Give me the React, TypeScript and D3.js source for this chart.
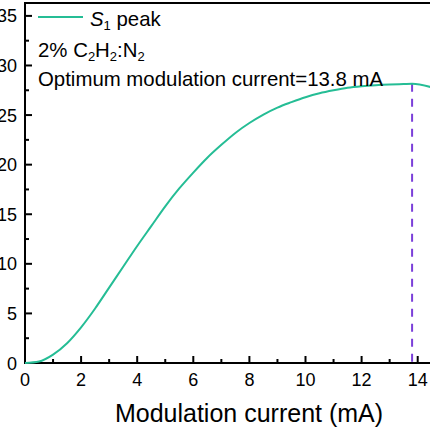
import React, { useEffect, useRef } from "react";
import * as d3 from "d3";

// modulation current (mA) and S1 peak amplitude
const current = [0, 0.5, 1, 1.5, 2, 2.5, 3, 3.5, 4, 4.5, 5, 5.5, 6, 6.5, 7, 7.5, 8, 8.5, 9, 9.5, 10, 10.5, 11, 11.5, 12, 12.5, 13, 13.5, 13.8, 14.5];
const s1Peak = [0, 0.15, 0.85, 2.0, 3.6, 5.5, 7.6, 9.7, 11.8, 13.8, 15.8, 17.6, 19.2, 20.7, 22.0, 23.2, 24.2, 25.05, 25.75, 26.3, 26.8, 27.2, 27.5, 27.75, 27.9, 28.0, 28.07, 28.12, 28.15, 27.8];

const xTicks = [0, 2, 4, 6, 8, 10, 12, 14];
const yTicks = [0, 5, 10, 15, 20, 25, 30, 35];
const optimum = 13.8;

const FONT = "'Liberation Sans', Arial, sans-serif";
const GREEN = "#25bd95";
const PURPLE = "#7b3fd9";

const App = () => {
  const svgRef = useRef<SVGSVGElement>(null);

  useEffect(() => {
    const W = 430;
    const H = 430;
    const svg = d3.select(svgRef.current).attr("width", W).attr("height", H);
    svg.selectAll("*").remove();

    const x = d3.scaleLinear().domain([0, 14.5]).range([25, 25 + 14.5 * 28.05]);
    const y = d3.scaleLinear().domain([0, 36.3]).range([363, 3]);

    const g = svg.append("g");

    // minor ticks
    const xMinor = d3.range(1, 15, 2);
    const yMinor = d3.range(2.5, 36, 5);

    g.selectAll(".xminor")
      .data(xMinor)
      .enter()
      .append("line")
      .attr("x1", (d) => x(d))
      .attr("x2", (d) => x(d))
      .attr("y1", y(0))
      .attr("y2", y(0) - 4)
      .attr("stroke", "#000")
      .attr("stroke-width", 2);

    g.selectAll(".yminor")
      .data(yMinor)
      .enter()
      .append("line")
      .attr("x1", x(0))
      .attr("x2", x(0) + 4)
      .attr("y1", (d) => y(d))
      .attr("y2", (d) => y(d))
      .attr("stroke", "#000")
      .attr("stroke-width", 2);

    // major ticks + labels
    g.selectAll(".xmajor")
      .data(xTicks)
      .enter()
      .append("line")
      .attr("x1", (d) => x(d))
      .attr("x2", (d) => x(d))
      .attr("y1", y(0))
      .attr("y2", y(0) - 7)
      .attr("stroke", "#000")
      .attr("stroke-width", 2);

    g.selectAll(".xlabel")
      .data(xTicks)
      .enter()
      .append("text")
      .attr("x", (d) => x(d))
      .attr("y", 386)
      .attr("text-anchor", "middle")
      .attr("font-family", FONT)
      .attr("font-size", 18)
      .text((d) => d);

    g.selectAll(".ymajor")
      .data(yTicks)
      .enter()
      .append("line")
      .attr("x1", x(0))
      .attr("x2", x(0) + 7)
      .attr("y1", (d) => y(d))
      .attr("y2", (d) => y(d))
      .attr("stroke", "#000")
      .attr("stroke-width", 2);

    g.selectAll(".ylabel")
      .data(yTicks)
      .enter()
      .append("text")
      .attr("x", 17)
      .attr("y", (d) => y(d) + 6.5)
      .attr("text-anchor", "end")
      .attr("font-family", FONT)
      .attr("font-size", 18)
      .text((d) => d);

    // axis frame (left, bottom, top)
    g.append("line")
      .attr("x1", x(0)).attr("x2", x(0))
      .attr("y1", y(0)).attr("y2", 3)
      .attr("stroke", "#000").attr("stroke-width", 2);
    g.append("line")
      .attr("x1", x(0) - 1).attr("x2", W)
      .attr("y1", y(0)).attr("y2", y(0))
      .attr("stroke", "#000").attr("stroke-width", 2);
    g.append("line")
      .attr("x1", x(0) - 1).attr("x2", W)
      .attr("y1", 3).attr("y2", 3)
      .attr("stroke", "#000").attr("stroke-width", 2);

    // optimum marker
    const peakIdx = current.indexOf(optimum);
    g.append("line")
      .attr("x1", x(optimum)).attr("x2", x(optimum))
      .attr("y1", y(s1Peak[peakIdx]))
      .attr("y2", y(0))
      .attr("stroke", PURPLE)
      .attr("stroke-width", 2)
      .attr("stroke-dasharray", "8 7");

    // S1 peak curve
    const line = d3
      .line<number>()
      .x((d, i) => x(current[i]))
      .y((d) => y(d))
      .curve(d3.curveMonotoneX);

    g.append("path")
      .datum(s1Peak)
      .attr("d", line)
      .attr("fill", "none")
      .attr("stroke", GREEN)
      .attr("stroke-width", 2);

    // legend / annotations
    g.append("line")
      .attr("x1", 38).attr("x2", 83)
      .attr("y1", 17).attr("y2", 17)
      .attr("stroke", GREEN)
      .attr("stroke-width", 2);

    const t1 = g.append("text")
      .attr("x", 90).attr("y", 26)
      .attr("font-family", FONT).attr("font-size", 20.4);
    t1.append("tspan").attr("font-style", "italic").text("S");
    t1.append("tspan").attr("font-size", 13).attr("dy", 4).text("1");
    t1.append("tspan").attr("dy", -4).text(" peak");

    const t2 = g.append("text")
      .attr("x", 38).attr("y", 57)
      .attr("font-family", FONT).attr("font-size", 20.4);
    t2.append("tspan").text("2% C");
    t2.append("tspan").attr("font-size", 13).attr("dy", 4).text("2");
    t2.append("tspan").attr("dy", -4).text("H");
    t2.append("tspan").attr("font-size", 13).attr("dy", 4).text("2");
    t2.append("tspan").attr("dy", -4).text(":N");
    t2.append("tspan").attr("font-size", 13).attr("dy", 4).text("2");

    g.append("text")
      .attr("x", 38).attr("y", 86)
      .attr("font-family", FONT).attr("font-size", 20.4)
      .text(`Optimum modulation current=${optimum} mA`);

    // x axis title
    g.append("text")
      .attr("x", 249).attr("y", 422)
      .attr("text-anchor", "middle")
      .attr("font-family", FONT).attr("font-size", 25)
      .text("Modulation current (mA)");
  }, []);

  return (
    <div style={{ position: "absolute", left: 0, top: 0, width: 430, height: 430, background: "#fff" }}>
      <svg ref={svgRef} style={{ display: "block" }}></svg>
    </div>
  );
};

export default App;
